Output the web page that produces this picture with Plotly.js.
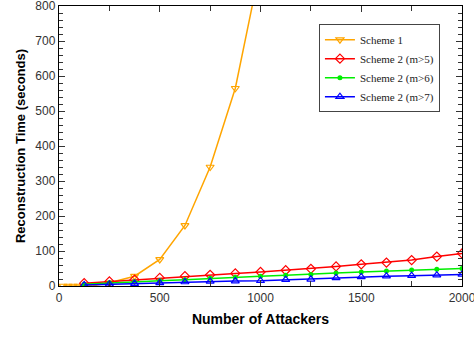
<!DOCTYPE html>
<html>
<head>
<meta charset="utf-8">
<script src="https://cdn.plot.ly/plotly-3.0.1.min.js"></script>
<style>html,body{margin:0;padding:0;background:#fff;}#chart{width:474px;height:353px;}</style>
</head>
<body>
<div id="chart"></div>
<script>
const s1X = [20, 45, 70, 95, 120, 145, 170, 250, 375, 500, 625, 750, 875, 1000];
const s1Y = [0, 0, 0, 0, 0, 1, 1, 9, 28, 76, 173, 340, 565, 915];
const s2X = [125, 250, 375, 500, 625, 750, 875, 1000, 1125, 1250, 1375, 1500, 1625, 1750, 1875, 2000];
const m5Y = [8, 13, 18, 23, 28, 32, 36, 40, 45, 49, 56, 62, 67, 74, 84, 93];
const m6Y = [5, 9, 12, 15, 18, 22, 25, 28, 31, 33, 37, 40, 43, 46, 48, 50];
const m7Y = [3, 5, 7, 9, 11.5, 13, 14, 15, 18, 19, 23, 26, 28, 29.5, 31, 33];
const names = ['Scheme 1', 'Scheme 2 (m>5)', 'Scheme 2 (m>6)', 'Scheme 2 (m>7)'];

const traces = [
  {x: s1X, y: s1Y, name: names[0], mode: 'lines+markers',
   line: {color: '#FFA500', width: 1.5},
   marker: {symbol: 'triangle-down-open', size: 7, color: '#FFA500', line: {width: 1.2}}},
  {x: s2X, y: m5Y, name: names[1], mode: 'lines+markers',
   line: {color: '#FF0000', width: 1.5},
   marker: {symbol: 'diamond-open', size: 7, color: '#FF0000', line: {width: 1.2}}},
  {x: s2X, y: m6Y, name: names[2], mode: 'lines+markers',
   line: {color: '#00EE00', width: 1.5},
   marker: {symbol: 'circle', size: 5, color: '#00EE00'}},
  {x: s2X, y: m7Y, name: names[3], mode: 'lines+markers',
   line: {color: '#0000FF', width: 1.5},
   marker: {symbol: 'triangle-up-open', size: 7, color: '#0000FF', line: {width: 1.2}}}
];

const layout = {
  width: 474, height: 353,
  margin: {l: 59, r: 12, t: 6, b: 67},
  paper_bgcolor: '#fff', plot_bgcolor: '#fff',
  showlegend: true,
  legend: {x: 0.645, y: 0.935, xanchor: 'left', yanchor: 'top',
    bordercolor: '#444', borderwidth: 1, bgcolor: '#fff',
    font: {family: 'Liberation Serif, Times New Roman, serif', size: 11, color: '#222'},
    tracegroupgap: 0, itemwidth: 30},
  xaxis: {range: [0, 2000], dtick: 500, tick0: 0, ticklabeloverflow: 'allow',
    showline: true, linecolor: '#000', linewidth: 1.2, mirror: 'ticks',
    ticks: 'inside', ticklen: 6, tickcolor: '#333', showgrid: false, zeroline: false,
    minor: {dtick: 250, ticks: 'inside', ticklen: 5, tickcolor: '#333', showgrid: false},
    tickfont: {family: 'Liberation Sans, Arial, sans-serif', size: 12, color: '#333'},
    title: {text: '<b>Number of Attackers</b>', standoff: 10,
      font: {family: 'Liberation Sans, Arial, sans-serif', size: 14, color: '#000'}}},
  yaxis: {range: [0, 800], dtick: 100, tick0: 0, ticklabeloverflow: 'allow',
    showline: true, linecolor: '#000', linewidth: 1.2, mirror: 'ticks',
    ticks: 'inside', ticklen: 6, tickcolor: '#333', showgrid: false, zeroline: false,
    minor: {dtick: 20, ticks: 'inside', ticklen: 4, tickcolor: '#333', showgrid: false},
    tickfont: {family: 'Liberation Sans, Arial, sans-serif', size: 12, color: '#333'},
    title: {text: '<b>Reconstruction Time (seconds)</b>', standoff: 6,
      font: {family: 'Liberation Sans, Arial, sans-serif', size: 13, color: '#000'}}}
};

Plotly.newPlot('chart', traces, layout, {displayModeBar: false, staticPlot: true});
</script>
</body>
</html>
